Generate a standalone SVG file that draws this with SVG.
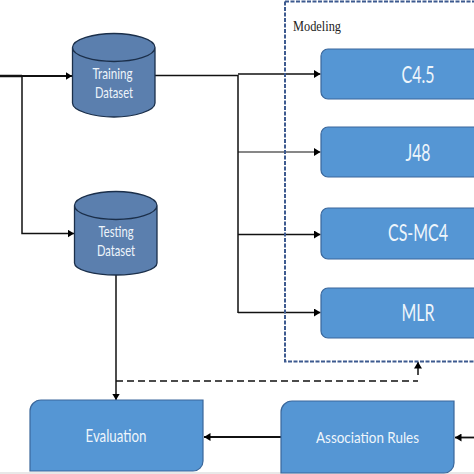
<svg xmlns="http://www.w3.org/2000/svg" width="474" height="474" viewBox="0 0 474 474">
<style>
.cyl{fill:#5b7fae;stroke:#1b2f4a;stroke-width:1.3}
.box{fill:#5596d4;stroke:#3a679b;stroke-width:1.2}
.t{font-family:"Lato","Open Sans",sans-serif;fill:#eef5fb;text-anchor:middle}
.l{fill:none;stroke:#111;stroke-width:1.5}
</style>
<defs>
<marker id="a" markerUnits="userSpaceOnUse" markerWidth="8" markerHeight="8" refX="6.500" refY="4" orient="auto"><path d="M0 0L6.500 4L0 8Z" fill="#000"/></marker>
</defs>
<rect width="474" height="474" fill="#fff"/>
<rect y="472" width="474" height="2" fill="#e8e8e8"/>
<g id="connectors">
<path class="l" style="stroke-width:2.500" d="M0 76H22"/>
<path class="l" style="stroke-width:1.800" d="M22 76H72" marker-end="url(#a)"/>
<path class="l" d="M22 76V233.500H74" marker-end="url(#a)"/>
<path class="l" d="M155 75.500H238V313"/>
<path class="l" d="M238 74H320.500" marker-end="url(#a)"/>
<path class="l" style="stroke-width:1.100" d="M238 152H320.500" marker-end="url(#a)"/>
<path class="l" d="M238 234.500H320.500" marker-end="url(#a)"/>
<path class="l" d="M238 312.500H320.500" marker-end="url(#a)"/>
<path class="l" d="M116 275V400" marker-end="url(#a)"/>
<path class="l" style="stroke-dasharray:7 4" d="M116 381H418"/>
<path class="l" d="M418 375V362" marker-end="url(#a)"/>
<path class="l" style="stroke-width:1.800" d="M281 437H204" marker-end="url(#a)"/>
<path class="l" style="stroke-width:1.800" d="M474 437.500H455" marker-end="url(#a)"/>
</g>
<g id="modeling">
<path d="M285 1.500V361.500H474M285 1.500H474" fill="none" stroke="#3d5a8f" stroke-width="2" stroke-dasharray="4 1.500"/>
<text x="293" y="30.500" font-family="Liberation Serif,serif" font-size="15" fill="#222" textLength="48" lengthAdjust="spacingAndGlyphs">Modeling</text>
</g>
<g id="training">
<path class="cyl" d="M72.500 47.500V103C72.500 111 94 117 114 117S155 111 155 103V47.500C155 39 134 33.500 114 33.500S72.500 39 72.500 47.500C72.500 56 94 61.500 114 61.500S155 56 155 47.500"/>
<text class="t" x="112.500" y="78.500" font-size="15" textLength="40" lengthAdjust="spacingAndGlyphs">Training</text>
<text class="t" x="114" y="97.500" font-size="15" textLength="38" lengthAdjust="spacingAndGlyphs">Dataset</text>
</g>
<g id="testing">
<path class="cyl" d="M74.500 205.500V263C74.500 270 94 275 116 275S157 270 157 263V205.500C157 197 136 191.500 116 191.500S74.500 197 74.500 205.500C74.500 214 96 219.500 116 219.500S157 214 157 205.500"/>
<text class="t" x="116" y="237" font-size="15" textLength="35" lengthAdjust="spacingAndGlyphs">Testing</text>
<text class="t" x="116" y="255.500" font-size="15" textLength="38" lengthAdjust="spacingAndGlyphs">Dataset</text>
</g>
<g id="c45">
<path class="box" d="M476 49H328A7 7 0 0 0 321 56V92A7 7 0 0 0 328 99H476Z"/>
<text class="t" x="418" y="82.500" font-size="23" textLength="33" lengthAdjust="spacingAndGlyphs">C4.5</text>
</g>
<g id="j48">
<path class="box" d="M476 127H328A7 7 0 0 0 321 134V170A7 7 0 0 0 328 177H476Z"/>
<text class="t" x="418" y="160.500" font-size="23" textLength="25" lengthAdjust="spacingAndGlyphs">J48</text>
</g>
<g id="csmc4">
<path class="box" d="M476 208H328A7 7 0 0 0 321 215V252A7 7 0 0 0 328 259H476Z"/>
<text class="t" x="418" y="241" font-size="23" textLength="60" lengthAdjust="spacingAndGlyphs">CS-MC4</text>
</g>
<g id="mlr">
<path class="box" d="M476 288H328A7 7 0 0 0 321 295V331A7 7 0 0 0 328 338H476Z"/>
<text class="t" x="418" y="320.500" font-size="23" textLength="33" lengthAdjust="spacingAndGlyphs">MLR</text>
</g>
<g id="evaluation">
<path class="box" d="M41 400H203V461A10 10 0 0 1 193 471H30V411A11 11 0 0 1 41 400Z"/>
<text class="t" x="116" y="442" font-size="17" textLength="61" lengthAdjust="spacingAndGlyphs">Evaluation</text>
</g>
<g id="association">
<path class="box" d="M292 401H454V463A10 10 0 0 1 444 473H281V412A11 11 0 0 1 292 401Z"/>
<text class="t" x="367.500" y="443" font-size="16" textLength="103" lengthAdjust="spacingAndGlyphs">Association Rules</text>
</g>
</svg>
